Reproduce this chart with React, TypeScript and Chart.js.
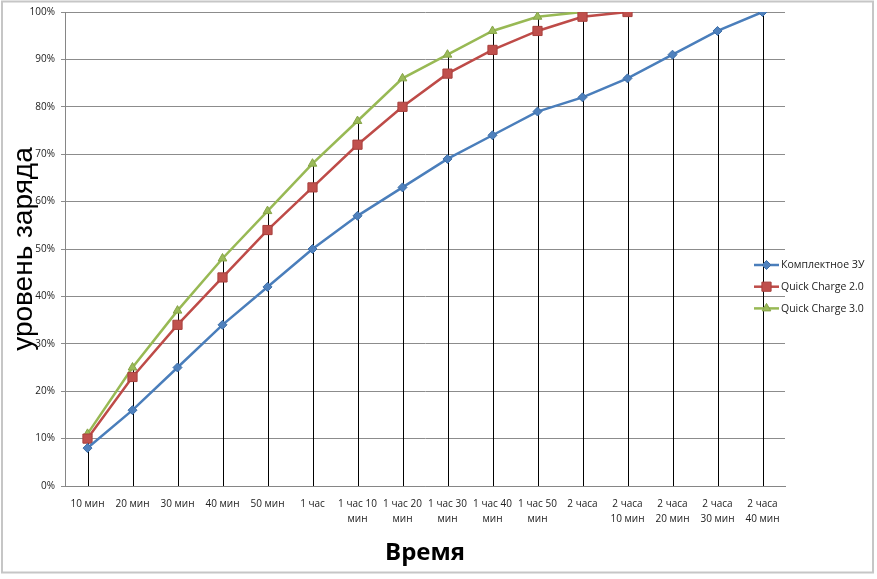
import React, { useEffect, useRef } from 'react';
import { Chart, registerables } from 'chart.js';
import { drawPoint } from 'chart.js/helpers';

Chart.register(...registerables);

const categories: (string | string[])[] = [
  '10 мин', '20 мин', '30 мин', '40 мин', '50 мин', '1 час',
  ['1 час 10', 'мин'], ['1 час 20', 'мин'], ['1 час 30', 'мин'], ['1 час 40', 'мин'], ['1 час 50', 'мин'],
  '2 часа', ['2 часа', '10 мин'], ['2 часа', '20 мин'], ['2 часа', '30 мин'], ['2 часа', '40 мин'],
];

const seriesNames = ['Комплектное ЗУ', 'Quick Charge 2.0', 'Quick Charge 3.0'];

const stockCharger = [8, 16, 25, 34, 42, 50, 57, 63, 69, 74, 79, 82, 86, 91, 96, 100];
const quickCharge2 = [10, 23, 34, 44, 54, 63, 72, 80, 87, 92, 96, 99, 100, null, null, null];
const quickCharge3 = [11, 25, 37, 48, 58, 68, 77, 86, 91, 96, 99, 100, null, null, null, null];

const yTicks = [0, 10, 20, 30, 40, 50, 60, 70, 80, 90, 100];

const FONT = '"Open Sans", "Noto Sans", sans-serif';

const framePlugin = {
  id: 'frame',
  beforeDraw(chart: any) {
    const ctx = chart.ctx;
    ctx.save();
    ctx.fillStyle = '#ffffff';
    ctx.fillRect(0, 0, chart.width, chart.height);
    ctx.strokeStyle = '#c6c6c6';
    ctx.lineWidth = 2;
    ctx.strokeRect(2, 1.5, 871, 571);
    ctx.restore();
  },
};

const dropLinesPlugin = {
  id: 'dropLines',
  beforeDatasetsDraw(chart: any) {
    const ctx = chart.ctx;
    const xs = chart.scales.x;
    const ys = chart.scales.y;
    const n = chart.data.labels.length;
    ctx.save();
    ctx.strokeStyle = '#000000';
    ctx.lineWidth = 1;
    for (let i = 0; i < n; i++) {
      let max: number | null = null;
      chart.data.datasets.forEach((ds: any) => {
        const v = ds.data[i];
        if (v !== null && v !== undefined && (max === null || v > max)) max = v;
      });
      if (max === null) continue;
      const x = Math.round(xs.getPixelForValue(i)) + 0.5;
      ctx.beginPath();
      ctx.moveTo(x, ys.getPixelForValue(max));
      ctx.lineTo(x, ys.bottom);
      ctx.stroke();
    }
    ctx.restore();
  },
};

const legendPlugin = {
  id: 'excelLegend',
  afterDraw(chart: any) {
    const ctx = chart.ctx;
    const x0 = 754;
    const y0 = 265;
    const step = 21.7;
    chart.data.datasets.forEach((ds: any, i: number) => {
      const y = y0 + i * step;
      ctx.save();
      ctx.strokeStyle = ds.borderColor;
      ctx.lineWidth = 2.5;
      ctx.beginPath();
      ctx.moveTo(x0, y);
      ctx.lineTo(x0 + 25, y);
      ctx.stroke();
      ctx.fillStyle = ds.pointBackgroundColor;
      ctx.strokeStyle = ds.pointBorderColor;
      ctx.lineWidth = 1;
      drawPoint(ctx, { pointStyle: ds.pointStyle, radius: ds.pointRadius, borderWidth: 1, rotation: 0 } as any, x0 + 12.5, y);
      ctx.fillStyle = '#222222';
      ctx.font = '10.5px ' + FONT;
      ctx.textBaseline = 'middle';
      ctx.textAlign = 'left';
      ctx.fillText(ds.label, x0 + 27, y + 0.5);
      ctx.restore();
    });
  },
};

export default function App() {
  const canvasRef = useRef<HTMLCanvasElement | null>(null);

  useEffect(() => {
    if (!canvasRef.current) return;
    const chart = new Chart(canvasRef.current, {
      type: 'line',
      data: {
        labels: categories,
        datasets: [
          {
            label: seriesNames[0],
            data: stockCharger,
            borderColor: '#4A7EBB',
            backgroundColor: '#4F81BD',
            pointBackgroundColor: '#4F81BD',
            pointBorderColor: '#3E6FA8',
            pointStyle: 'rectRot',
            pointRadius: 4.5,
            pointBorderWidth: 1,
            borderWidth: 2.5,
            tension: 0,
          },
          {
            label: seriesNames[1],
            data: quickCharge2,
            borderColor: '#BE4B48',
            backgroundColor: '#C0504D',
            pointBackgroundColor: '#C0504D',
            pointBorderColor: '#A8403D',
            pointStyle: 'rect',
            pointRadius: 6.5,
            pointBorderWidth: 1,
            borderWidth: 2.5,
            tension: 0,
          },
          {
            label: seriesNames[2],
            data: quickCharge3,
            borderColor: '#98B954',
            backgroundColor: '#9BBB59',
            pointBackgroundColor: '#9BBB59',
            pointBorderColor: '#86A448',
            pointStyle: 'triangle',
            pointRadius: 5,
            pointBorderWidth: 1,
            borderWidth: 2.5,
            tension: 0,
          },
        ] as any,
      },
      options: {
        responsive: false,
        animation: false,
        layout: { padding: { top: 12, right: 92, bottom: 0, left: 0 } },
        plugins: {
          legend: { display: false },
          tooltip: { enabled: false },
        },
        scales: {
          x: {
            type: 'category',
            offset: true,
            grid: { display: false, drawTicks: false },
            border: { display: true, color: '#868686', width: 1 },
            ticks: {
              color: '#222222',
              padding: 11,
              maxRotation: 0,
              autoSkip: false,
              font: { family: FONT, size: 10, lineHeight: 1.45 },
            },
            title: {
              display: true,
              text: 'Время',
              color: '#000000',
              font: { family: FONT, size: 24, weight: 'bold', lineHeight: 1.2 },
              padding: { top: 0, bottom: 11 },
            },
            afterFit(scale: any) {
              scale.height = 93;
            },
          },
          y: {
            min: 0,
            max: 100,
            afterBuildTicks(scale: any) {
              scale.ticks = yTicks.map((v) => ({ value: v }));
            },
            grid: { color: '#8c8c8c', lineWidth: 1, tickLength: 4, drawTicks: true },
            border: { display: true, color: '#868686', width: 1 },
            ticks: {
              color: '#222222',
              padding: 6,
              font: { family: FONT, size: 10 },
              callback: (v: any) => v + '%',
            },
            title: {
              display: true,
              text: 'уровень заряда',
              color: '#000000',
              font: { family: '"Liberation Sans", Arial, sans-serif', size: 28, weight: 'normal', lineHeight: 1.2 },
              padding: { top: 7, bottom: 0 },
            },
            afterFit(scale: any) {
              scale.width = 65;
            },
          },
        },
      } as any,
      plugins: [framePlugin, dropLinesPlugin, legendPlugin],
    });
    return () => chart.destroy();
  }, []);

  return (
    <div style={{ position: 'fixed', left: 0, top: 0, width: 877, height: 579, background: '#fff' }}>
      <canvas ref={canvasRef} width={877} height={579} style={{ display: 'block' }} />
    </div>
  );
}
